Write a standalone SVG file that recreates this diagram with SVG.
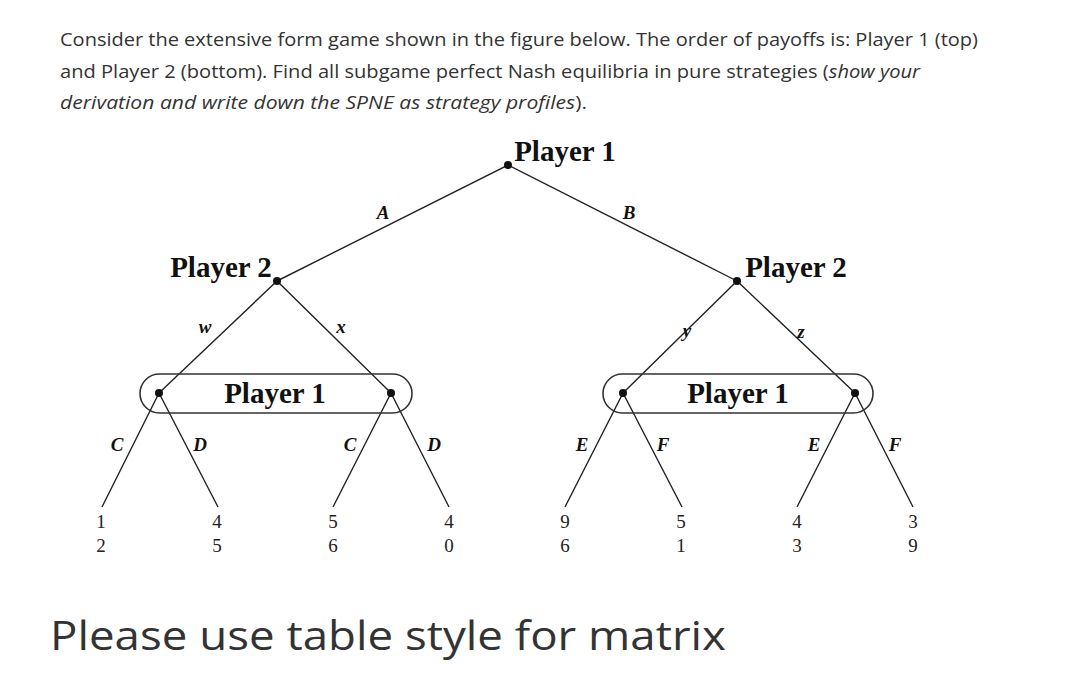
<svg xmlns="http://www.w3.org/2000/svg" width="1080" height="680" viewBox="0 0 1080 680">
<style>
.q{font-family:"Open Sans","Liberation Sans",sans-serif;font-size:17.5px;fill:#333}
.qi{font-style:italic}
.pl{font-family:"Liberation Serif",serif;font-weight:bold;font-size:29px;fill:#111;text-anchor:middle}
.ac{font-family:"Liberation Serif",serif;font-weight:bold;font-style:italic;font-size:19px;fill:#111;text-anchor:middle}
.pay{font-family:"Liberation Serif",serif;font-size:19px;fill:#222;text-anchor:middle}
.e{stroke:#222;stroke-width:1.4;fill:none}
.info{stroke:#333;stroke-width:1.6;fill:none}
</style>
<rect width="1080" height="680" fill="#fff"/>
<text class="q" x="60" y="46" textLength="918" lengthAdjust="spacingAndGlyphs">Consider the extensive form game shown in the figure below. The order of payoffs is: Player 1 (top)</text>
<text class="q" x="60" y="78" textLength="860" lengthAdjust="spacingAndGlyphs">and Player 2 (bottom). Find all subgame perfect Nash equilibria in pure strategies (<tspan class="qi">show your</tspan></text>
<text class="q" x="60" y="109" textLength="527" lengthAdjust="spacingAndGlyphs"><tspan class="qi">derivation and write down the SPNE as strategy profiles</tspan>).</text>
<g id="connectors">
<polyline class="e" points="277,281 508,165 737,281"/>
<polyline class="e" points="159,393 277,281 391,393"/>
<polyline class="e" points="623,393 737,281 855,393"/>
<polyline class="e" points="102,507 159,393 218,507"/>
<polyline class="e" points="333,507 391,393 449,507"/>
<polyline class="e" points="565,507 623,393 682,507"/>
<polyline class="e" points="797,507 855,393 913,507"/>
<text class="ac" x="383" y="219">A</text><text class="ac" x="629" y="219">B</text>
<text class="ac" x="205" y="333">w</text><text class="ac" x="341" y="333">x</text>
<text class="ac" x="687" y="337">y</text><text class="ac" x="801" y="338">z</text>
<text class="ac" x="117" y="451">C</text><text class="ac" x="200" y="451">D</text>
<text class="ac" x="350" y="451">C</text><text class="ac" x="434" y="451">D</text>
<text class="ac" x="582" y="451">E</text><text class="ac" x="663" y="451">F</text>
<text class="ac" x="814" y="451">E</text><text class="ac" x="895" y="451">F</text>
</g>
<g id="root"><circle cx="508" cy="165" r="4" fill="#111"/><text class="pl" x="565" y="161">Player 1</text></g>
<g id="p2left"><circle cx="277" cy="281" r="4" fill="#111"/><text class="pl" x="221" y="277">Player 2</text></g>
<g id="p2right"><circle cx="737" cy="281" r="4" fill="#111"/><text class="pl" x="796" y="277">Player 2</text></g>
<g id="info1"><rect class="info" x="140" y="374" width="272" height="39" rx="19.5"/><circle cx="159" cy="393" r="4" fill="#111"/><circle cx="391" cy="393" r="4" fill="#111"/><text class="pl" x="275" y="403">Player 1</text></g>
<g id="info2"><rect class="info" x="603" y="374" width="270" height="39" rx="19.5"/><circle cx="623" cy="393" r="4" fill="#111"/><circle cx="855" cy="393" r="4" fill="#111"/><text class="pl" x="738" y="403">Player 1</text></g>
<g id="leaves">
<text class="pay" x="101" y="528">1</text><text class="pay" x="101" y="552">2</text>
<text class="pay" x="217" y="528">4</text><text class="pay" x="217" y="552">5</text>
<text class="pay" x="333" y="528">5</text><text class="pay" x="333" y="552">6</text>
<text class="pay" x="449" y="528">4</text><text class="pay" x="449" y="552">0</text>
<text class="pay" x="565" y="528">9</text><text class="pay" x="565" y="552">6</text>
<text class="pay" x="681" y="528">5</text><text class="pay" x="681" y="552">1</text>
<text class="pay" x="797" y="528">4</text><text class="pay" x="797" y="552">3</text>
<text class="pay" x="913" y="528">3</text><text class="pay" x="913" y="552">9</text>
</g>
<text x="50" y="650" font-family="'Open Sans','Liberation Sans',sans-serif" font-size="40" fill="#333" textLength="676" lengthAdjust="spacingAndGlyphs">Please use table style for matrix</text>
</svg>
